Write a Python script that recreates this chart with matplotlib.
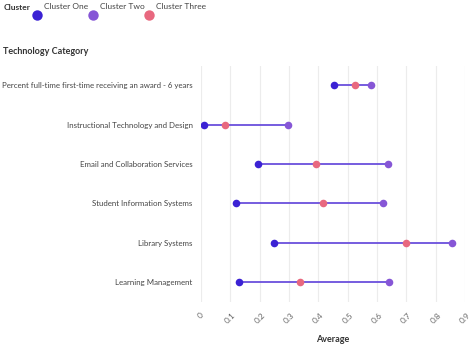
import matplotlib.pyplot as plt
from matplotlib.lines import Line2D

plt.rcParams['font.family'] = ['Lato', 'DejaVu Sans']

# Data
categories = [
    "Percent full-time first-time receiving an award - 6 years",
    "Instructional Technology and Design",
    "Email and Collaboration Services",
    "Student Information Systems",
    "Library Systems",
    "Learning Management",
]
cluster_one = [0.453, 0.011, 0.193, 0.119, 0.248, 0.130]
cluster_two = [0.580, 0.298, 0.636, 0.622, 0.855, 0.641]
cluster_three = [0.524, 0.082, 0.393, 0.417, 0.698, 0.336]
series_names = ["Cluster One", "Cluster Two", "Cluster Three"]
x_ticks = [0, 0.1, 0.2, 0.3, 0.4, 0.5, 0.6, 0.7, 0.8, 0.9]

colors = ['#3b22d4', '#8656d6', '#e8687f']
line_color = '#6a4fdc'
text_color = '#444444'

fig = plt.figure(figsize=(4.74, 3.45), dpi=100)
ax = fig.add_axes([0.424, 0.125, 0.557, 0.685])

ypos = list(range(len(categories)))
for i, y in enumerate(ypos):
    vals = [cluster_one[i], cluster_two[i], cluster_three[i]]
    ax.plot([min(vals), max(vals)], [y, y], color=line_color, lw=1.3, zorder=2)
ax.scatter(cluster_one, ypos, s=30, color=colors[0], zorder=3, linewidths=0)
ax.scatter(cluster_two, ypos, s=30, color=colors[1], zorder=3, linewidths=0)
ax.scatter(cluster_three, ypos, s=30, color=colors[2], zorder=4, linewidths=0)

ax.set_xlim(0, 0.9)
ax.set_ylim(len(categories) - 0.5, -0.5)
ax.set_yticks(ypos)
ax.set_yticklabels(categories, fontsize=5.7, color=text_color)
ax.set_xticks(x_ticks)
ax.set_xticklabels([f"{t:g}" for t in x_ticks], rotation=45, ha='center',
                   va='top', fontsize=6, color='#666666')
ax.tick_params(axis='x', length=0, pad=7)
ax.tick_params(axis='y', length=0, pad=6)
ax.grid(axis='x', color='#ececec', lw=0.8)
ax.set_axisbelow(True)
for s in ax.spines.values():
    s.set_visible(False)
ax.set_xlabel("Average", fontsize=6.5, fontweight='bold', color='#333333', labelpad=7)

# Axis title on the left
fig.text(0.007, 0.852, "Technology Category", fontsize=6.5, fontweight='bold',
         color='#333333', va='center')

# Legend at the top
fig.text(0.007, 0.977, "Cluster", fontsize=6, fontweight='bold',
         color='#333333', va='center')
leg_x = [0.078, 0.196, 0.314]
for name, c, lx in zip(series_names, colors, leg_x):
    fig.add_artist(Line2D([lx], [0.956], marker='o', markersize=7.5, color=c,
                          markeredgewidth=0, transform=fig.transFigure))
    fig.text(lx + 0.015, 0.98, name, fontsize=6, color=text_color, va='center')

fig.savefig("out.png", dpi=100)
